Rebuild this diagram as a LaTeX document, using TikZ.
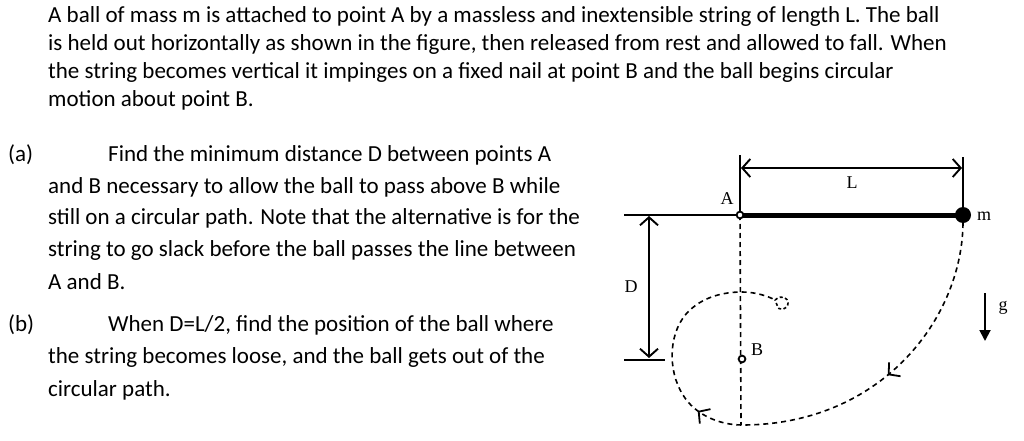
\documentclass[tikz,border=0pt]{standalone}
\usepackage{fontspec}
\setmainfont{Carlito}
\newfontfamily\serifm{Liberation Serif}
\usetikzlibrary{arrows.meta,decorations.markings}
\begin{document}
\begin{tikzpicture}[x=1pt,y=-1pt,
  txt/.style={anchor=west,inner sep=0pt,font=\fontsize{23}{26}\selectfont},
  lbl/.style={inner sep=1pt,font=\serifm\fontsize{18}{20}\selectfont},
  thin/.style={line width=1.6pt},
  traj/.style={line width=1.6pt,dash pattern=on 5pt off 4pt},
  barb/.tip={Straight Barb[length=8pt,width=18pt,line width=1.8pt]},
  dim/.style={line width=1.9pt,{Straight Barb[length=8pt,width=18pt]}-{Straight Barb[length=8pt,width=18pt]}}]
\useasboundingbox (0,0) rectangle (1024,441);
\node[txt] (t1) at (48,16) {A ball of mass m is attached to point A by a massless and inextensible string of length L. The ball};
\node[txt] (t2) at (48,44) {is held out horizontally as shown in the figure, then released from rest and allowed to fall. When};
\node[txt] (t3) at (48,72) {the string becomes vertical it impinges on a fixed nail at point B and the ball begins circular};
\node[txt] (t4) at (48,100) {motion about point B.};
\node[txt] (pa) at (8,155) {(a)};
\node[txt] (a1) at (108,155) {Find the minimum distance D between points A};
\node[txt] (a2) at (48,187) {and B necessary to allow the ball to pass above B while};
\node[txt] (a3) at (48,218) {still on a circular path. Note that the alternative is for the};
\node[txt] (a4) at (48,250) {string to go slack before the ball passes the line between};
\node[txt] (a5) at (48,282) {A and B.};
\node[txt] (pb) at (8,325) {(b)};
\node[txt] (b1) at (108,325) {When D=L/2, find the position of the ball where};
\node[txt] (b2) at (48,357) {the string becomes loose, and the ball gets out of the};
\node[txt] (b3) at (48,390) {circular path.};
% geometry
\coordinate (A) at (740,215);
\coordinate (M) at (963,215);
\coordinate (B) at (742,359);
\coordinate (Atop) at (740,155);
\coordinate (Mtop) at (963,157);
\draw[thin] (Atop) -- (A);
\draw[thin] (Mtop) -- (M);
\coordinate (L1) at (741,168);
\coordinate (L2) at (962,168);
\draw[dim] (L1) -- (L2);
\node[lbl] (Ll) at (852,183) {L};
\coordinate (H1) at (624,215);
\draw[thin] (H1) -- (A);
\coordinate (H2) at (624,360);
\coordinate (H3) at (665,360);
\draw[thin] (H2) -- (H3);
\coordinate (D1) at (649,216);
\coordinate (D2) at (649,358);
\draw[dim] (D1) -- (D2);
\node[lbl] (Dl) at (631,287) {D};
\coordinate (Bot) at (741,425);
\draw[traj] (A) -- (Bot);
\draw[line width=5pt] (A) -- (M);
\fill (M) circle (8);
\node[lbl,anchor=west] (ml) at (976,216) {m};
\draw[fill=white,line width=1.8pt] (A) circle (3.4);
\draw[fill=white,line width=1.8pt] (B) circle (3.4);
\node[lbl] (Al) at (727,199) {A};
\node[lbl] (Bl) at (757,350) {B};
% trajectory
\draw[traj, postaction={decorate},
  decoration={markings,
    mark=at position 0.30 with {\arrow[solid]{barb}},
    mark=at position 0.65 with {\arrow[solid]{barb}}}]
  (963,223) .. controls (962,320) and (880,425) .. (742,425)
  .. controls (720,425) and (695,415) .. (683,395)
  .. controls (667,370) and (668,330) .. (690,310)
  .. controls (705,296) and (725,292) .. (742,292)
  .. controls (755,292) and (768,296) .. (775,300);
\draw[traj,dash pattern=on 3pt off 2.5pt] (775,300) .. controls (782,294) and (788,298) .. (788,303)
  .. controls (788,310) and (778,312) .. (777,305) -- (775,300);
% gravity
\coordinate (G1) at (985,293);
\coordinate (G2) at (985,341);
\draw[line width=1.9pt,-{Triangle[length=11pt,width=11pt]}] (G1) -- (G2);
\node[lbl] (gl) at (1003,308) {g};
\end{tikzpicture}
\end{document}
